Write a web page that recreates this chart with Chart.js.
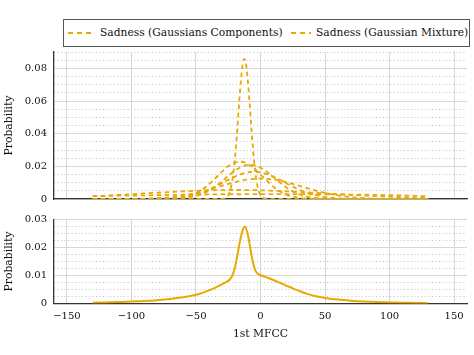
<!DOCTYPE html>
<html><head><meta charset="utf-8">
<script src="https://cdn.jsdelivr.net/npm/chart.js@4.4.1/dist/chart.umd.min.js"></script>
<style>
body{margin:0;width:474px;height:355px;background:#fff;position:relative;overflow:hidden;font-family:"DejaVu Serif",serif;}
#c1{position:absolute;left:0;top:0;}
#c2{position:absolute;left:0;top:205px;}
#legend{position:absolute;left:63px;top:19px;width:407px;height:28px;border:1px solid #555;box-sizing:border-box;font-size:10.7px;color:#111;}
#legend .s{position:absolute;top:10px;}
#legend .t{position:absolute;top:6px;white-space:nowrap;line-height:14px;}
</style></head>
<body>
<div id="legend">
  <svg class="s" style="left:4px" width="26" height="6"><line x1="0" y1="3" x2="26" y2="3" stroke="#E8A900" stroke-width="2" stroke-dasharray="5 4"/></svg>
  <span class="t" id="lt1" style="left:36px">Sadness (Gaussians Components)</span>
  <svg class="s" style="left:227px" width="20" height="6"><line x1="0" y1="3" x2="20" y2="3" stroke="#E8A900" stroke-width="2" stroke-dasharray="5 4"/></svg>
  <span class="t" id="lt2" style="left:252px">Sadness (Gaussian Mixture)</span>
</div>
<canvas id="c1" width="474" height="212"></canvas>
<canvas id="c2" width="474" height="150"></canvas>
<script>
// ---- data ----
const legendLabels = ["Sadness (Gaussians Components)", "Sadness (Gaussian Mixture)"];
const xTicks = [-150, -100, -50, 0, 50, 100, 150];
const topYTicks = [0, 0.02, 0.04, 0.06, 0.08];
const bottomYTicks = [0, 0.01, 0.02, 0.03];

// narrow component
const compA_x = [-130, -40, -30, -25, -22, -20, -18, -16, -14, -12.5, -11, -9, -7, -5, -3, 0, 5, 15, 130];
const compA_y = [0, 0, 0.0001, 0.0023, 0.0106, 0.0234, 0.0426, 0.0646, 0.0815, 0.0858, 0.0815, 0.0646, 0.0426, 0.0234, 0.0106, 0.0023, 0.0001, 0, 0];

// shared x grid for the wider components
const compX = [-130, -110, -90, -70, -60, -50, -45, -40, -35, -30, -25, -20, -15, -10, -5, 0, 5, 10, 15, 20, 25, 30, 35, 40, 50, 60, 70, 90, 110, 130];
const compB_y = [0, 0, 0, 0.0002, 0.0010, 0.0034, 0.0058, 0.0089, 0.0127, 0.0166, 0.0200, 0.0222, 0.0228, 0.0215, 0.0187, 0.0150, 0.0111, 0.0075, 0.0047, 0.0027, 0.0015, 0.0007, 0.0003, 0.0001, 0, 0, 0, 0, 0, 0];
const compC_y = [0, 0, 0, 0.0001, 0.0005, 0.0018, 0.0032, 0.0051, 0.0076, 0.0107, 0.0141, 0.0172, 0.0196, 0.0209, 0.0207, 0.0192, 0.0166, 0.0134, 0.0101, 0.0071, 0.0046, 0.0028, 0.0016, 0.0009, 0.0002, 0, 0, 0, 0, 0];
const compD_y = [0, 0, 0, 0.0004, 0.0012, 0.0029, 0.0041, 0.0057, 0.0076, 0.0096, 0.0117, 0.0137, 0.0152, 0.0163, 0.0166, 0.0163, 0.0152, 0.0137, 0.0117, 0.0096, 0.0076, 0.0057, 0.0041, 0.0029, 0.0012, 0.0004, 0.0001, 0, 0, 0];
const compE_y = [0, 0, 0.0002, 0.0011, 0.0022, 0.0037, 0.0047, 0.0057, 0.0069, 0.0081, 0.0092, 0.0103, 0.0112, 0.0119, 0.0123, 0.0125, 0.0123, 0.0119, 0.0112, 0.0103, 0.0092, 0.0081, 0.0069, 0.0057, 0.0037, 0.0022, 0.0011, 0.0002, 0, 0];
const compF_y = [0.0017, 0.0025, 0.0034, 0.0043, 0.0047, 0.0050, 0.0052, 0.0053, 0.0054, 0.0054, 0.0055, 0.0055, 0.0055, 0.0054, 0.0054, 0.0053, 0.0052, 0.0050, 0.0049, 0.0047, 0.0045, 0.0043, 0.0041, 0.0039, 0.0034, 0.0030, 0.0025, 0.0017, 0.0011, 0.0006];
const compG_y = [0.0017, 0.0020, 0.0022, 0.0025, 0.0026, 0.0027, 0.0027, 0.0028, 0.0028, 0.0029, 0.0029, 0.0029, 0.0029, 0.0030, 0.0030, 0.0030, 0.0030, 0.0030, 0.0030, 0.0030, 0.0030, 0.0030, 0.0029, 0.0029, 0.0029, 0.0028, 0.0027, 0.0025, 0.0022, 0.0017];

// mixture
const mixX = [-130, -120, -110, -100, -90, -80, -70, -60, -50, -45, -40, -35, -30, -26, -24, -22, -20, -18, -16, -14, -12, -10, -8, -6, -4, -2, 0, 5, 10, 15, 20, 25, 30, 35, 40, 45, 50, 60, 70, 80, 90, 100, 110, 120, 130];
const mixY = [0.0003, 0.0004, 0.0005, 0.0007, 0.0009, 0.0012, 0.0016, 0.0022, 0.0031, 0.0038, 0.0047, 0.0057, 0.0068, 0.0078, 0.0085, 0.0098, 0.0125, 0.0170, 0.0220, 0.0260, 0.0274, 0.0250, 0.0200, 0.0150, 0.0118, 0.0106, 0.0101, 0.0093, 0.0084, 0.0074, 0.0064, 0.0054, 0.0045, 0.0036, 0.0029, 0.0024, 0.0020, 0.0014, 0.0010, 0.0007, 0.0005, 0.0004, 0.0003, 0.0002, 0.0001];

// ---- style ----
const COLOR = '#E8A900';
const FONT = {family: '"DejaVu Serif", serif', size: 10};
const TITLEFONT = {family: '"DejaVu Serif", serif', size: 10.8};
const TXT = '#111';
const MAJOR = '#d6d6d6';
const MINOR = '#c0c0c0';
const AXIS = '#333';
const X_MIN = -160, X_MAX = 160;

const pts = (xs, ys) => xs.map((x, i) => ({x, y: ys[i]}));
const fmtY = v => v === 0 ? '0' : v.toFixed(2);
const fmtX = v => v < 0 ? '\u2212' + Math.abs(v) : String(v);
const isMul = (v, s) => Math.abs(v / s - Math.round(v / s)) < 1e-6;

function compSet(xs, ys) {
  return {data: pts(xs, ys), borderColor: COLOR, borderWidth: 1.8, borderDash: [4.5, 3.5],
    pointRadius: 0, fill: false, cubicInterpolationMode: 'monotone'};
}

function yScales(max, majorTicks, minorStep) {
  const majorStep = majorTicks[1] - majorTicks[0];
  return {
    y: {type: 'linear', position: 'left', min: 0, max: max,
      afterBuildTicks: s => { s.ticks = majorTicks.map(v => ({value: v})); },
      ticks: {font: FONT, color: TXT, padding: 7, callback: fmtY},
      grid: {color: MAJOR, drawTicks: false, lineWidth: 1},
      border: {display: true, color: AXIS, width: 1.3},
      title: {display: true, text: 'Probability', font: TITLEFONT, color: TXT, padding: {top: 3, bottom: 0}},
      afterFit: s => { s.width = 54; }
    },
    ym: {type: 'linear', position: 'left', min: 0, max: max,
      ticks: {display: false, stepSize: minorStep},
      grid: {drawTicks: false, lineWidth: 1,
        color: c => (c.tick && isMul(c.tick.value, majorStep)) ? 'rgba(0,0,0,0)' : MINOR},
      border: {display: false, dash: [1, 2.5]},
      afterFit: s => { s.width = 0; }
    }
  };
}

const common = {
  responsive: false, animation: false, devicePixelRatio: 1,
  plugins: {legend: {display: false}, tooltip: {enabled: false}},
  elements: {line: {tension: 0}}
};

// top chart: components
new Chart(document.getElementById('c1'), {
  type: 'line',
  data: {datasets: [
    compSet(compA_x, compA_y), compSet(compX, compB_y), compSet(compX, compC_y),
    compSet(compX, compD_y), compSet(compX, compE_y), compSet(compX, compF_y), compSet(compX, compG_y)
  ]},
  options: Object.assign({}, common, {
    layout: {padding: {top: 52, right: 7, left: 0, bottom: 0}},
    scales: Object.assign({
      x: {type: 'linear', min: X_MIN, max: X_MAX,
        afterBuildTicks: s => { s.ticks = xTicks.map(v => ({value: v})); },
        ticks: {display: false},
        grid: {color: MAJOR, drawTicks: false},
        border: {display: true, color: AXIS, width: 1.3},
        afterFit: s => { s.height = 10; }
      }
    }, yScales(0.09, topYTicks, 0.005))
  })
});

// bottom chart: mixture
new Chart(document.getElementById('c2'), {
  type: 'line',
  data: {datasets: [{data: pts(mixX, mixY), borderColor: COLOR, borderWidth: 2, pointRadius: 0,
    fill: false, cubicInterpolationMode: 'monotone'}]},
  options: Object.assign({}, common, {
    layout: {padding: {top: 14.5, right: 7, left: 0, bottom: 14}},
    scales: Object.assign({
      x: {type: 'linear', min: X_MIN, max: X_MAX,
        afterBuildTicks: s => { s.ticks = xTicks.map(v => ({value: v})); },
        ticks: {font: FONT, color: TXT, padding: 7, maxRotation: 0, callback: fmtX},
        grid: {color: MAJOR, drawTicks: false},
        border: {display: true, color: AXIS, width: 1.3},
        title: {display: true, text: '1st MFCC', font: TITLEFONT, color: TXT, padding: {top: 6, bottom: 0}},
        afterFit: s => { s.height = 37.5; }
      }
    }, yScales(0.03, bottomYTicks, 0.0025))
  })
});
</script>
</body></html>
